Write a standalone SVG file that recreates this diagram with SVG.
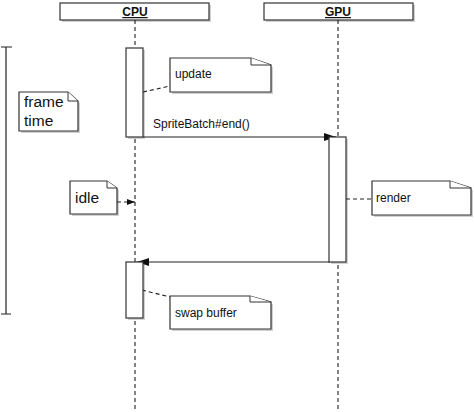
<svg xmlns="http://www.w3.org/2000/svg" width="474" height="412" viewBox="0 0 474 412">
<style>
.box{fill:#fff;stroke:#333;stroke-width:1.2}
.shadow{fill:#000;opacity:0.18}
.life{stroke:#333;stroke-width:1.2;stroke-dasharray:4 3;fill:none}
.msg{stroke:#222;stroke-width:1.2;fill:none}
.dash{stroke:#222;stroke-width:1.1;stroke-dasharray:4 3;fill:none}
.fold{fill:#fff;stroke:#333;stroke-width:1}
.t{font-family:"Liberation Sans",Arial,sans-serif;fill:#111}
.head{font-size:12px;font-weight:bold;text-decoration:underline;text-anchor:middle}
.small{font-size:12px}
.big{font-size:15.5px}
</style>
<defs>
<marker id="ah" markerWidth="12" markerHeight="8" refX="12" refY="4" orient="auto" markerUnits="userSpaceOnUse">
<path d="M0,0 L12,4 L0,8 Z" fill="#111"/>
</marker>
<marker id="ahs" markerWidth="8" markerHeight="6" refX="8" refY="3" orient="auto" markerUnits="userSpaceOnUse">
<path d="M0,0 L8,3 L0,6 Z" fill="#111"/>
</marker>
</defs>

<g id="connectors">
<line class="life" x1="135" y1="20" x2="135" y2="412"/>
<line class="life" x1="338" y1="20" x2="338" y2="412"/>
<line class="msg" x1="143" y1="137" x2="336" y2="137" marker-end="url(#ah)"/>
<line class="msg" x1="330" y1="262" x2="137" y2="262" marker-end="url(#ah)"/>
<line class="dash" x1="143" y1="92" x2="170" y2="86"/>
<line class="dash" x1="346" y1="199" x2="372" y2="199"/>
<line class="dash" x1="142" y1="290" x2="170" y2="297"/>
<line class="dash" x1="117" y1="202" x2="135" y2="202" marker-end="url(#ahs)"/>
<path class="msg" d="M1,47 H12 M6,47 V314 M1,314 H11" stroke="#444"/>
</g>

<g id="cpu">
<rect class="shadow" x="62" y="5" width="149" height="17"/>
<rect class="box" x="60" y="3" width="149" height="17"/>
<text class="t head" x="135" y="16">CPU</text>
</g>
<g id="gpu">
<rect class="shadow" x="266" y="5" width="149" height="17"/>
<rect class="box" x="264" y="3" width="149" height="17"/>
<text class="t head" x="338" y="16">GPU</text>
</g>

<g id="cpu-act1">
<rect class="shadow" x="128" y="50" width="17" height="89"/>
<rect class="box" x="126" y="48" width="17" height="89"/>
</g>
<g id="gpu-act">
<rect class="shadow" x="331" y="139" width="17" height="125"/>
<rect class="box" x="329" y="137" width="17" height="125"/>
</g>
<g id="cpu-act2">
<rect class="shadow" x="128" y="264" width="17" height="56"/>
<rect class="box" x="126" y="262" width="17" height="56"/>
</g>

<g id="msg-label">
<text class="t small" x="153" y="128" font-size="12.6">SpriteBatch#end()</text>
</g>

<g id="note-update">
<path class="shadow" d="M172,60 H253 L273,67 V94 H172 Z"/>
<path class="box" d="M170,58 H251 L271,65 V92 H170 Z"/>
<path class="fold" d="M251,58 V65 H271"/>
<text class="t small" x="175" y="78">update</text>
</g>

<g id="note-frametime">
<path class="shadow" d="M21,94 H70 L80,103 V133 H21 Z"/>
<path class="box" d="M19,92 H68 L78,101 V131 H19 Z"/>
<path class="fold" d="M68,92 V101 H78"/>
<text class="t big" x="24" y="107">frame</text>
<text class="t big" x="24" y="126">time</text>
</g>

<g id="note-idle">
<path class="shadow" d="M72,183 H109 L119,190 V216 H72 Z"/>
<path class="box" d="M70,181 H107 L117,188 V214 H70 Z"/>
<path class="fold" d="M107,181 V188 H117"/>
<text class="t big" x="75" y="203">idle</text>
</g>

<g id="note-render">
<path class="shadow" d="M374,183 H452 L473,190 V217 H374 Z"/>
<path class="box" d="M372,181 H450 L471,188 V215 H372 Z"/>
<path class="fold" d="M450,181 V188 H471"/>
<text class="t small" x="376" y="202">render</text>
</g>

<g id="note-swap">
<path class="shadow" d="M172,298 H252 L273,304 V331 H172 Z"/>
<path class="box" d="M170,296 H250 L271,302 V329 H170 Z"/>
<path class="fold" d="M250,296 V302 H271"/>
<text class="t small" x="175" y="317">swap buffer</text>
</g>
</svg>
